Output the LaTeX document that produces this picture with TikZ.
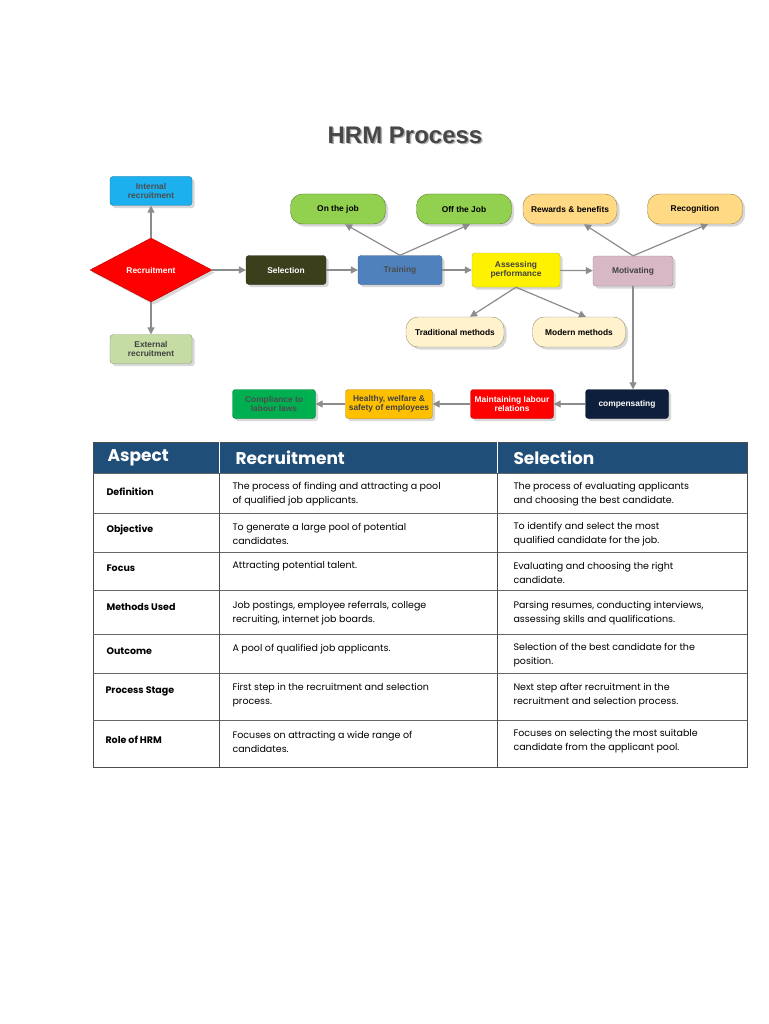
\documentclass[tikz,border=0pt]{standalone}
\usepackage{fontspec}
\setmainfont{Liberation Sans}
\newfontfamily\pop{Poppins}
\usetikzlibrary{shapes.geometric,shadows,arrows.meta}
\definecolor{arr}{HTML}{8C8C8C}
\definecolor{navy}{HTML}{1F4E79}
\begin{document}
\begin{tikzpicture}[x=1pt,y=-1pt,
  box/.style={draw=#1!70!black,fill=#1,rounded corners=3pt,minimum width=82pt,minimum height=29pt,align=center,font=\fontsize{8.4}{9.4}\selectfont\bfseries,drop shadow={opacity=0.3}},
  pill/.style={draw=#1!60!black,fill=#1,rounded corners=12pt,minimum width=95pt,minimum height=30pt,align=center,font=\fontsize{8.4}{9.4}\selectfont\bfseries,drop shadow={opacity=0.3}},
  ar/.style={draw=arr,line width=1.2pt,-{Triangle[length=7pt,width=7pt]}},
  hd/.style={font=\pop\fontsize{17}{19}\selectfont\bfseries,text=white,anchor=west},
  lab/.style={font=\pop\fontsize{9.5}{12}\selectfont\bfseries,anchor=west},
  cell/.style={font=\pop\fontsize{9.5}{14.5}\selectfont,anchor=west,align=left},
  ttl/.style={font=\fontsize{24}{26}\selectfont\bfseries}]
\useasboundingbox (0,0) rectangle (768,1024);
\fill[white] (0,0) rectangle (768,1024);
\node[ttl,text=black!30] (tshadow) at (406.5,136.5) {HRM Process};
\node[ttl,text=black!72] (title) at (405,135) {HRM Process};
\definecolor{cInt}{HTML}{1CB0EE}
\definecolor{cExt}{HTML}{C5DDA5}
\definecolor{cSel}{HTML}{3B3F1C}
\definecolor{cTr}{HTML}{4F81BD}
\definecolor{cMot}{HTML}{D9B8C6}
\definecolor{cGr}{HTML}{92D050}
\definecolor{cRw}{HTML}{FFD983}
\definecolor{cTm}{HTML}{FFF2CC}
\definecolor{cCmp}{HTML}{0E1F3B}
\definecolor{cHw}{HTML}{FFC000}
\definecolor{cCo}{HTML}{00B050}
\node[box=cInt,minimum height=29pt,text=black!70] (int) at (151,191) {Internal\\recruitment};
\node[diamond,draw=red!70!black,fill=red,minimum width=122pt,minimum height=64pt,aspect=1.9,inner sep=0pt,text=white,font=\fontsize{8.4}{9.4}\selectfont\bfseries,drop shadow={opacity=0.3}] (rec) at (151,270) {Recruitment};
\node[box=cExt,text=black!75] (ext) at (151,349) {External\\recruitment};
\node[box=cSel,minimum width=80pt,text=white] (sel) at (286,270) {Selection};
\node[box=cTr,minimum width=84pt,text=black!70] (tr) at (400,270) {Training};
\node[box=yellow,minimum width=88pt,minimum height=34pt,text=black!75] (as) at (516,270) {Assessing\\performance};
\node[box=cMot,minimum width=80pt,minimum height=30pt,text=black!75] (mot) at (633,271) {Motivating};
\node[pill=cGr] (oj) at (338,209) {On the job};
\node[pill=cGr] (ofj) at (464,209) {Off the Job};
\node[pill=cRw,minimum width=94pt] (rw) at (570,209) {Rewards \& benefits};
\node[pill=cRw,minimum width=95pt] (rg) at (695,209) {Recognition};
\node[pill=cTm,minimum width=98pt] (trd) at (455,332) {Traditional methods};
\node[pill=cTm,minimum width=93pt] (mod) at (579,332) {Modern methods};
\node[box=cCmp,minimum width=83pt,text=white] (cmp) at (627,404) {compensating};
\node[box=red,minimum width=83pt,text=white] (mlr) at (512,404) {Maintaining labour\\relations};
\node[box=cHw,minimum width=83pt,text=black!75] (hw) at (389,404) {Healthy, welfare \&\\safety of employees};
\node[box=cCo,minimum width=83pt,text=black!70] (co) at (274,404) {Compliance to\\labour laws};
\draw[ar] (rec.north) -- (int.south);
\draw[ar] (rec.south) -- (ext.north);
\draw[ar] (rec.east) -- (sel.west);
\draw[ar] (sel) -- (tr);
\draw[ar] (tr) -- (as);
\draw[ar] (as) -- (mot);
\draw[ar] (tr.north) -- ([xshift=7pt]oj.south);
\draw[ar] (tr.north) -- ([xshift=6pt]ofj.south);
\draw[ar] (as.south) -- ([xshift=15pt]trd.north);
\draw[ar] (as.south) -- ([xshift=7pt]mod.north);
\draw[ar] (mot.north) -- ([xshift=14pt]rw.south);
\draw[ar] (mot.north) -- ([xshift=13pt]rg.south);
\draw[ar] (mot.south) -- (mot.south |- cmp.north);
\draw[ar] (cmp) -- (mlr);
\draw[ar] (mlr) -- (hw);
\draw[ar] (hw) -- (co);
% table
\fill[navy] (93,442) rectangle (747,473);
\draw[black!70,line width=0.8pt] (93,442) rectangle (747,767);
\foreach \y in {473,513,552,590,634,673,720} \draw[black!60,line width=0.8pt] (93,\y) -- (747,\y);
\draw[black!70,line width=0.8pt] (219,442) -- (219,767);
\draw[black!70,line width=0.8pt] (497,442) -- (497,767);
\draw[white,line width=0.8pt] (219,442) -- (219,473) (497,442) -- (497,473);
\node[hd] (h1) at (104,458) {Aspect};
\node[hd] (h2) at (232,458) {Recruitment};
\node[hd] (h3) at (510,458) {Selection};
\node[lab] (a1) at (103,492) {Definition};
\node[lab] (a2) at (103,530) {Objective};
\node[lab] (a3) at (103,568) {Focus};
\node[lab] (a4) at (103,607) {Methods Used};
\node[lab] (a5) at (103,651) {Outcome};
\node[lab] (a6) at (102,691) {Process Stage};
\node[lab] (a7) at (102,740) {Role of HRM};
\node[cell] (r1) at (229,494) {The process of finding and attracting a pool\\of qualified job applicants.};
\node[cell] (r2) at (229,534) {To generate a large pool of potential\\candidates.};
\node[cell] (r3) at (229,566) {Attracting potential talent.};
\node[cell] (r4) at (229,613) {Job postings, employee referrals, college\\recruiting, internet job boards.};
\node[cell] (r5) at (229,649) {A pool of qualified job applicants.};
\node[cell] (r6) at (229,695) {First step in the recruitment and selection\\process.};
\node[cell] (r7) at (229,742) {Focuses on attracting a wide range of\\candidates.};
\node[cell] (s1) at (510,494) {The process of evaluating applicants\\and choosing the best candidate.};
\node[cell] (s2) at (510,534) {To identify and select the most\\qualified candidate for the job.};
\node[cell] (s3) at (510,573) {Evaluating and choosing the right\\candidate.};
\node[cell] (s4) at (510,613) {Parsing resumes, conducting interviews,\\assessing skills and qualifications.};
\node[cell] (s5) at (510,655) {Selection of the best candidate for the\\position.};
\node[cell] (s6) at (510,695) {Next step after recruitment in the\\recruitment and selection process.};
\node[cell] (s7) at (510,741) {Focuses on selecting the most suitable\\candidate from the applicant pool.};
\end{tikzpicture}
\end{document}
